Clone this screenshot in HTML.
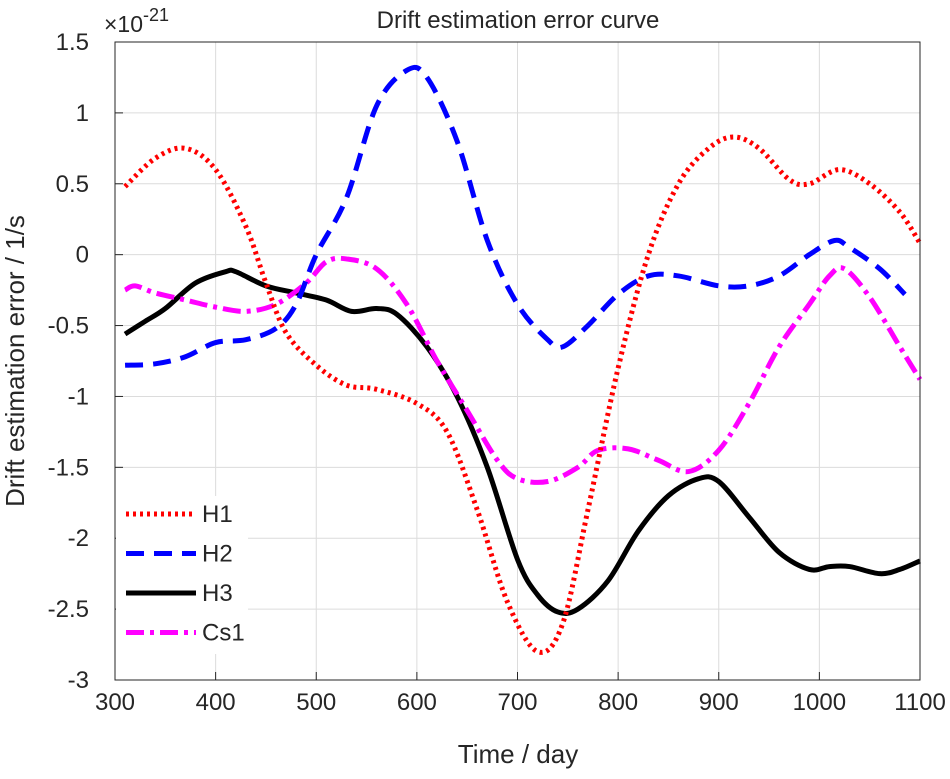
<!DOCTYPE html>
<html><head><meta charset="utf-8"><style>
body{margin:0;background:#fff;}
svg text{font-family:"Liberation Sans",Arial,sans-serif;fill:#262626;}
</style></head><body>
<svg id="chart" width="950" height="774" viewBox="0 0 950 774" xmlns="http://www.w3.org/2000/svg">
<g id="grid"></g>
<g id="series"></g>
<g id="axes"></g>
<text x="518" y="28" font-size="24" text-anchor="middle">Drift estimation error curve</text>
<text x="104" y="32" font-size="23">×10<tspan dy="-11" font-size="18">-21</tspan></text>
<text x="518" y="763" font-size="26" text-anchor="middle">Time / day</text>
<text transform="translate(24,361) rotate(-90)" font-size="26" text-anchor="middle">Drift estimation error / 1/s</text>
<g id="legend"></g>
</svg>
<script>
const xTicks=[300,400,500,600,700,800,900,1000,1100];
const yTicks=[1.5,1,0.5,0,-0.5,-1,-1.5,-2,-2.5,-3];
const h1X=[310,340,370,400,430,450,470,500,530,560,600,630,660,690,720,745,770,800,830,860,890,915,940,970,990,1020,1050,1080,1100];
const h1Y=[0.48,0.68,0.75,0.6,0.2,-0.2,-0.55,-0.78,-0.92,-0.95,-1.05,-1.25,-1.8,-2.45,-2.8,-2.6,-1.8,-0.8,0.0,0.5,0.75,0.83,0.75,0.53,0.5,0.6,0.5,0.3,0.08];
const h2X=[310,340,370,400,430,460,480,500,530,560,590,610,640,670,700,730,745,770,800,830,860,900,930,960,990,1015,1030,1060,1085];
const h2Y=[-0.78,-0.77,-0.72,-0.62,-0.6,-0.52,-0.35,0.0,0.4,1.05,1.3,1.25,0.8,0.1,-0.35,-0.6,-0.65,-0.5,-0.28,-0.15,-0.15,-0.22,-0.22,-0.15,0.0,0.1,0.05,-0.1,-0.28];
const h3X=[310,330,350,380,410,420,450,480,510,535,560,580,610,640,670,700,720,740,760,790,820,850,880,900,930,960,990,1010,1030,1060,1080,1100];
const h3Y=[-0.56,-0.47,-0.38,-0.2,-0.12,-0.12,-0.22,-0.27,-0.32,-0.4,-0.38,-0.42,-0.65,-1.0,-1.5,-2.15,-2.4,-2.52,-2.5,-2.3,-1.95,-1.7,-1.58,-1.6,-1.85,-2.1,-2.22,-2.2,-2.2,-2.25,-2.22,-2.16];
const csX=[310,320,340,370,400,430,460,490,510,530,560,590,620,650,680,700,730,760,780,810,840,870,900,930,960,990,1010,1025,1050,1080,1100];
const csY=[-0.25,-0.22,-0.27,-0.32,-0.37,-0.4,-0.35,-0.2,-0.05,-0.03,-0.1,-0.35,-0.75,-1.1,-1.45,-1.58,-1.6,-1.5,-1.38,-1.37,-1.45,-1.53,-1.38,-1.05,-0.65,-0.35,-0.15,-0.1,-0.3,-0.65,-0.88];
const names=['H1','H2','H3','Cs1'];
const X0=115,X1=920,Y0=42,Y1=680;
const sx=v=>X0+(v-300)/800*(X1-X0);
const sy=v=>Y0+(1.5-v)/4.5*(Y1-Y0);
const NS='http://www.w3.org/2000/svg';
function mk(t,a,p){const e=document.createElementNS(NS,t);for(const k in a)e.setAttribute(k,a[k]);p.appendChild(e);return e;}
const grid=document.getElementById('grid'),axes=document.getElementById('axes'),ser=document.getElementById('series'),leg=document.getElementById('legend');
xTicks.forEach(v=>{
 const l=mk('line',{x1:sx(v),x2:sx(v),y1:Y0,y2:Y1,stroke:'#dcdcdc','stroke-width':1},grid);
 
 
 const t=mk('line',{x1:sx(v),x2:sx(v),y1:Y1,y2:Y1-8,stroke:'#262626'},axes);
 
 
 const tx=mk('text',{x:sx(v),y:Y1+30,'font-size':24,'text-anchor':'middle'},axes);tx.textContent=v;
 
 
});
yTicks.forEach(v=>{
 const l=mk('line',{x1:X0,x2:X1,y1:sy(v),y2:sy(v),stroke:'#dcdcdc','stroke-width':1},grid);
 
 
 const t=mk('line',{x1:X0,x2:X0+8,y1:sy(v),y2:sy(v),stroke:'#262626'},axes);
 
 
 const tx=mk('text',{x:X0-26,y:sy(v)+8,'font-size':24,'text-anchor':'end'},axes);tx.textContent=v;
 
 
});
const box=mk('rect',{x:X0,y:Y0,width:X1-X0,height:Y1-Y0,fill:'none',stroke:'#262626','stroke-width':1},axes);


function path(xs,ys){
 const p=xs.map((x,i)=>[sx(x),sy(ys[i])]);let d='M'+p[0][0]+','+p[0][1];
 for(let i=0;i<p.length-1;i++){const a=p[i-1]||p[i],b=p[i],c=p[i+1],e=p[i+2]||c;
  d+=' C'+(b[0]+(c[0]-a[0])/6)+','+(b[1]+(c[1]-a[1])/6)+' '+(c[0]-(e[0]-b[0])/6)+','+(c[1]-(e[1]-b[1])/6)+' '+c[0]+','+c[1];}
 return d;}
const styles=[{stroke:'#ff0000',dash:'3,4'},{stroke:'#0000ff',dash:'18,10'},{stroke:'#000000',dash:''},{stroke:'#ff00ff',dash:'18,6,4,6'}];
const data=[[h1X,h1Y],[h2X,h2Y],[h3X,h3Y],[csX,csY]];
[2,3,1,0].forEach(i=>{
 const s=mk('path',{d:path(data[i][0],data[i][1]),fill:'none',stroke:styles[i].stroke,'stroke-width':5,'stroke-dasharray':styles[i].dash},ser);
 
 
});
const lb=mk('rect',{x:116,y:496,width:132,height:158,fill:'#fff',stroke:'none'},leg);


names.forEach((n,i)=>{
 const y=514+i*39.5;
 const l=mk('line',{x1:126,x2:196,y1:y,y2:y,stroke:styles[i].stroke,'stroke-width':5,'stroke-dasharray':styles[i].dash},leg);
 
 
 const t=mk('text',{x:202,y:y+8,'font-size':24},leg);t.textContent=n;
 
 
});
</script>
</body></html>
